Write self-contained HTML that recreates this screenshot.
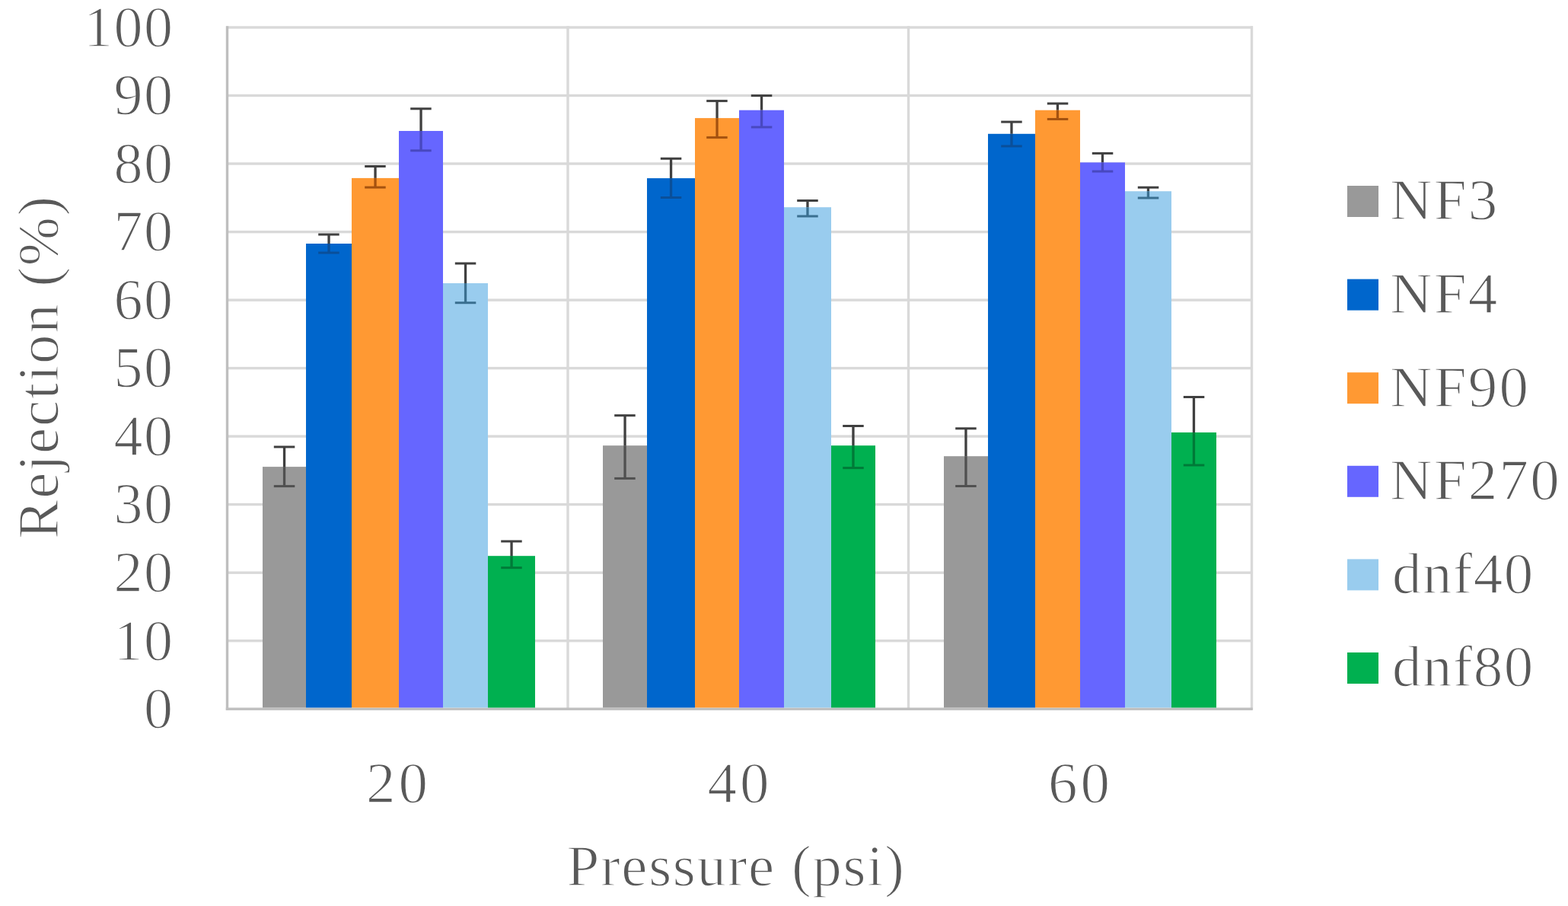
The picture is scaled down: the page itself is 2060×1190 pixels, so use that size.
<!DOCTYPE html>
<html><head><meta charset="utf-8"><title>Rejection vs Pressure</title>
<style>
html,body{margin:0;padding:0;background:#fff;}
body{width:2060px;height:1190px;overflow:hidden;}
svg{display:block;}
text{font-family:"Liberation Serif","Times New Roman",serif;fill:#595959;stroke:#fff;stroke-width:1.4px;}
</style></head><body>
<svg width="2060" height="1190" viewBox="0 0 2060 1190">
<rect x="0" y="0" width="2060" height="1190" fill="#fff"/>

<rect x="297" y="840.0" width="1349" height="3.4" fill="#d9d9d9"/>
<rect x="297" y="750.5" width="1349" height="3.4" fill="#d9d9d9"/>
<rect x="297" y="660.9" width="1349" height="3.4" fill="#d9d9d9"/>
<rect x="297" y="571.4" width="1349" height="3.4" fill="#d9d9d9"/>
<rect x="297" y="481.9" width="1349" height="3.4" fill="#d9d9d9"/>
<rect x="297" y="392.4" width="1349" height="3.4" fill="#d9d9d9"/>
<rect x="297" y="302.9" width="1349" height="3.4" fill="#d9d9d9"/>
<rect x="297" y="213.3" width="1349" height="3.4" fill="#d9d9d9"/>
<rect x="297" y="123.8" width="1349" height="3.4" fill="#d9d9d9"/>
<rect x="297" y="34.3" width="1349" height="3.4" fill="#d9d9d9"/>
<rect x="744.3" y="34.3" width="3.4" height="898" fill="#d9d9d9"/>
<rect x="1191.8" y="34.3" width="3.4" height="898" fill="#d9d9d9"/>
<rect x="1642.8" y="34.3" width="3.4" height="898" fill="#d9d9d9"/>
<rect x="296.8" y="34.3" width="3.4" height="898.6" fill="#bfbfbf"/>
<rect x="296.8" y="929.5" width="1349" height="3.4" fill="#bfbfbf"/>
<rect x="345" y="613.1" width="57.0" height="316.4" fill="#999999"/>
<rect x="402" y="320" width="60.0" height="609.5" fill="#0066CC"/>
<rect x="462" y="233.9" width="62.0" height="695.6" fill="#FF9933"/>
<rect x="524" y="172" width="58.0" height="757.5" fill="#6666FF"/>
<rect x="582" y="372" width="59.0" height="557.5" fill="#99CCEE"/>
<rect x="641" y="730.2" width="62.0" height="199.3" fill="#00B050"/>
<rect x="792" y="585.2" width="58.0" height="344.3" fill="#999999"/>
<rect x="850" y="234.1" width="63.0" height="695.4" fill="#0066CC"/>
<rect x="913" y="155.1" width="58.0" height="774.4" fill="#FF9933"/>
<rect x="971" y="144.7" width="59.0" height="784.8" fill="#6666FF"/>
<rect x="1030" y="272.2" width="62.0" height="657.3" fill="#99CCEE"/>
<rect x="1092" y="585.2" width="58.0" height="344.3" fill="#00B050"/>
<rect x="1240" y="599.2" width="58.0" height="330.3" fill="#999999"/>
<rect x="1298" y="175.8" width="62.0" height="753.7" fill="#0066CC"/>
<rect x="1360" y="144.7" width="59.0" height="784.8" fill="#FF9933"/>
<rect x="1419" y="213.4" width="59.0" height="716.1" fill="#6666FF"/>
<rect x="1478" y="251.2" width="61.0" height="678.3" fill="#99CCEE"/>
<rect x="1539" y="568" width="59.0" height="361.5" fill="#00B050"/>
<rect x="371.9" y="587.0" width="3.3" height="26.1" fill="#404040"/>
<rect x="371.9" y="613.1" width="3.3" height="25.5" fill="#505050"/>
<rect x="359.8" y="585.5" width="27.5" height="3" fill="#404040"/>
<rect x="359.8" y="637.1" width="27.5" height="3" fill="#505050"/>
<rect x="430.4" y="308.0" width="3.3" height="12.0" fill="#404040"/>
<rect x="430.4" y="320.0" width="3.3" height="12.0" fill="#0a4f99"/>
<rect x="418.2" y="306.5" width="27.5" height="3" fill="#404040"/>
<rect x="418.2" y="330.5" width="27.5" height="3" fill="#0a4f99"/>
<rect x="491.4" y="218.5" width="3.3" height="15.4" fill="#404040"/>
<rect x="491.4" y="233.9" width="3.3" height="12.2" fill="#a5520f"/>
<rect x="479.2" y="217.0" width="27.5" height="3" fill="#404040"/>
<rect x="479.2" y="244.6" width="27.5" height="3" fill="#a5520f"/>
<rect x="551.4" y="142.8" width="3.3" height="29.2" fill="#404040"/>
<rect x="551.4" y="172.0" width="3.3" height="25.8" fill="#4848c0"/>
<rect x="539.2" y="141.3" width="27.5" height="3" fill="#404040"/>
<rect x="539.2" y="196.3" width="27.5" height="3" fill="#4848c0"/>
<rect x="609.9" y="346.0" width="3.3" height="26.0" fill="#404040"/>
<rect x="609.9" y="372.0" width="3.3" height="25.7" fill="#3a6f90"/>
<rect x="597.8" y="344.5" width="27.5" height="3" fill="#404040"/>
<rect x="597.8" y="396.2" width="27.5" height="3" fill="#3a6f90"/>
<rect x="670.4" y="711.0" width="3.3" height="19.2" fill="#404040"/>
<rect x="670.4" y="730.2" width="3.3" height="15.5" fill="#007a38"/>
<rect x="658.2" y="709.5" width="27.5" height="3" fill="#404040"/>
<rect x="658.2" y="744.2" width="27.5" height="3" fill="#007a38"/>
<rect x="819.4" y="545.7" width="3.3" height="39.5" fill="#404040"/>
<rect x="819.4" y="585.2" width="3.3" height="43.2" fill="#505050"/>
<rect x="807.2" y="544.2" width="27.5" height="3" fill="#404040"/>
<rect x="807.2" y="626.9" width="27.5" height="3" fill="#505050"/>
<rect x="879.9" y="208.3" width="3.3" height="25.8" fill="#404040"/>
<rect x="879.9" y="234.1" width="3.3" height="25.4" fill="#0a4f99"/>
<rect x="867.8" y="206.8" width="27.5" height="3" fill="#404040"/>
<rect x="867.8" y="258.0" width="27.5" height="3" fill="#0a4f99"/>
<rect x="940.4" y="132.6" width="3.3" height="22.5" fill="#404040"/>
<rect x="940.4" y="155.1" width="3.3" height="25.5" fill="#a5520f"/>
<rect x="928.2" y="131.1" width="27.5" height="3" fill="#404040"/>
<rect x="928.2" y="179.1" width="27.5" height="3" fill="#a5520f"/>
<rect x="998.9" y="125.6" width="3.3" height="19.1" fill="#404040"/>
<rect x="998.9" y="144.7" width="3.3" height="22.3" fill="#4848c0"/>
<rect x="986.8" y="124.1" width="27.5" height="3" fill="#404040"/>
<rect x="986.8" y="165.5" width="27.5" height="3" fill="#4848c0"/>
<rect x="1059.3" y="263.5" width="3.3" height="8.7" fill="#404040"/>
<rect x="1059.3" y="272.2" width="3.3" height="11.8" fill="#3a6f90"/>
<rect x="1047.2" y="262.0" width="27.5" height="3" fill="#404040"/>
<rect x="1047.2" y="282.5" width="27.5" height="3" fill="#3a6f90"/>
<rect x="1119.3" y="559.5" width="3.3" height="25.7" fill="#404040"/>
<rect x="1119.3" y="585.2" width="3.3" height="29.4" fill="#007a38"/>
<rect x="1107.2" y="558.0" width="27.5" height="3" fill="#404040"/>
<rect x="1107.2" y="613.1" width="27.5" height="3" fill="#007a38"/>
<rect x="1267.3" y="562.8" width="3.3" height="36.4" fill="#404040"/>
<rect x="1267.3" y="599.2" width="3.3" height="39.3" fill="#505050"/>
<rect x="1255.2" y="561.3" width="27.5" height="3" fill="#404040"/>
<rect x="1255.2" y="637.0" width="27.5" height="3" fill="#505050"/>
<rect x="1327.3" y="160.1" width="3.3" height="15.7" fill="#404040"/>
<rect x="1327.3" y="175.8" width="3.3" height="16.2" fill="#0a4f99"/>
<rect x="1315.2" y="158.6" width="27.5" height="3" fill="#404040"/>
<rect x="1315.2" y="190.5" width="27.5" height="3" fill="#0a4f99"/>
<rect x="1387.8" y="136.0" width="3.3" height="8.7" fill="#404040"/>
<rect x="1387.8" y="144.7" width="3.3" height="11.8" fill="#a5520f"/>
<rect x="1375.8" y="134.5" width="27.5" height="3" fill="#404040"/>
<rect x="1375.8" y="155.0" width="27.5" height="3" fill="#a5520f"/>
<rect x="1446.8" y="201.4" width="3.3" height="12.0" fill="#404040"/>
<rect x="1446.8" y="213.4" width="3.3" height="11.7" fill="#4848c0"/>
<rect x="1434.8" y="199.9" width="27.5" height="3" fill="#404040"/>
<rect x="1434.8" y="223.6" width="27.5" height="3" fill="#4848c0"/>
<rect x="1506.8" y="246.2" width="3.3" height="5.0" fill="#404040"/>
<rect x="1506.8" y="251.2" width="3.3" height="8.8" fill="#3a6f90"/>
<rect x="1494.8" y="244.7" width="27.5" height="3" fill="#404040"/>
<rect x="1494.8" y="258.5" width="27.5" height="3" fill="#3a6f90"/>
<rect x="1566.8" y="521.5" width="3.3" height="46.5" fill="#404040"/>
<rect x="1566.8" y="568.0" width="3.3" height="43.0" fill="#007a38"/>
<rect x="1554.8" y="520.0" width="27.5" height="3" fill="#404040"/>
<rect x="1554.8" y="609.5" width="27.5" height="3" fill="#007a38"/>
<text x="228.5" y="956.0" font-size="76" letter-spacing="1.5" text-anchor="end">0</text>
<text x="228.5" y="866.5" font-size="76" letter-spacing="1.5" text-anchor="end">10</text>
<text x="228.5" y="777.0" font-size="76" letter-spacing="1.5" text-anchor="end">20</text>
<text x="228.5" y="687.4" font-size="76" letter-spacing="1.5" text-anchor="end">30</text>
<text x="228.5" y="597.9" font-size="76" letter-spacing="1.5" text-anchor="end">40</text>
<text x="228.5" y="508.4" font-size="76" letter-spacing="1.5" text-anchor="end">50</text>
<text x="228.5" y="418.9" font-size="76" letter-spacing="1.5" text-anchor="end">60</text>
<text x="228.5" y="329.4" font-size="76" letter-spacing="1.5" text-anchor="end">70</text>
<text x="228.5" y="239.8" font-size="76" letter-spacing="1.5" text-anchor="end">80</text>
<text x="228.5" y="150.3" font-size="76" letter-spacing="1.5" text-anchor="end">90</text>
<text x="228.5" y="60.8" font-size="76" letter-spacing="1.5" text-anchor="end">100</text>
<text x="523.5" y="1053.6" font-size="77" letter-spacing="4" text-anchor="middle">20</text>
<text x="972" y="1053.6" font-size="77" letter-spacing="4" text-anchor="middle">40</text>
<text x="1419.5" y="1053.6" font-size="77" letter-spacing="4" text-anchor="middle">60</text>
<text x="967" y="1163" font-size="77" letter-spacing="1.7" text-anchor="middle">Pressure (psi)</text>
<text transform="translate(76,482) rotate(-90)" font-size="77" letter-spacing="1.7" text-anchor="middle">Rejection (%)</text>
<rect x="1770" y="244.0" width="41" height="41" fill="#999999"/>
<text x="1826" y="288.4" font-size="77" letter-spacing="2.2">NF3</text>
<rect x="1770" y="366.6" width="41" height="41" fill="#0066CC"/>
<text x="1826" y="411.0" font-size="77" letter-spacing="2.2">NF4</text>
<rect x="1770" y="489.2" width="41" height="41" fill="#FF9933"/>
<text x="1826" y="533.6" font-size="77" letter-spacing="2.2">NF90</text>
<rect x="1770" y="611.8" width="41" height="41" fill="#6666FF"/>
<text x="1826" y="656.2" font-size="77" letter-spacing="2.2">NF270</text>
<rect x="1770" y="734.4" width="41" height="41" fill="#99CCEE"/>
<text x="1829" y="778.8" font-size="77" letter-spacing="1.4">dnf40</text>
<rect x="1770" y="857.0" width="41" height="41" fill="#00B050"/>
<text x="1829" y="901.4" font-size="77" letter-spacing="1.4">dnf80</text>
</svg>
</body></html>
